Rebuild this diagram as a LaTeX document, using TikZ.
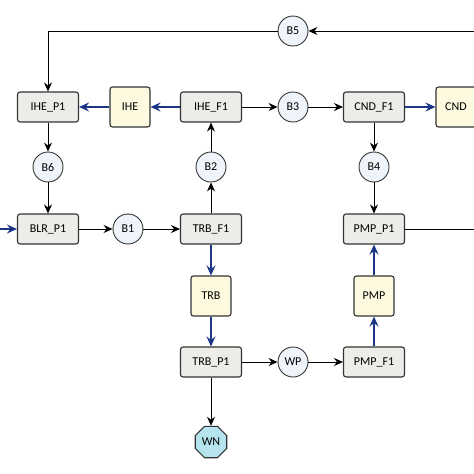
\documentclass[tikz,border=0pt]{standalone}
\usepackage{fontspec}
\setmainfont{Carlito}
\usetikzlibrary{arrows.meta,shapes.geometric}
\definecolor{gbox}{HTML}{ECEDE9}
\definecolor{ybox}{HTML}{FDFAE0}
\definecolor{cfill}{HTML}{EEF4FA}
\definecolor{wnfill}{HTML}{B5E4EE}
\definecolor{navy}{HTML}{1C3585}
\definecolor{edge}{HTML}{333333}
\begin{document}
\begin{tikzpicture}[x=1pt,y=-1pt,
  font=\fontsize{12}{13}\selectfont,
  pbox/.style={draw=edge,line width=1.1pt,rounded corners=2.5pt,fill=gbox,minimum width=61pt,minimum height=30pt,inner sep=0pt},
  ebox/.style={draw=edge,line width=1.1pt,rounded corners=2.5pt,fill=ybox,minimum width=40pt,minimum height=40pt,inner sep=0pt},
  bus/.style={draw=edge,line width=0.9pt,circle,fill=cfill,minimum size=30pt,inner sep=0pt},
  octa/.style={draw=edge,line width=1.1pt,regular polygon,regular polygon sides=8,fill=wnfill,minimum size=34pt,inner sep=0pt},
  blk/.style={black,line width=0.9pt,-{Stealth[length=9pt,width=8pt,inset=3pt]}},
  blu/.style={navy,line width=2pt,-{Stealth[length=10pt,width=9pt,inset=3.5pt]}},
  plain/.style={line width=0.9pt}]
\useasboundingbox (0,0) rectangle (474,474);
% row 1
\node[pbox] (iheP) at (48,107) {IHE\_P1};
\node[ebox] (ihe) at (130,107) {IHE};
\node[pbox] (iheF) at (211,107) {IHE\_F1};
\node[bus] (b3) at (293,107) {B3};
\node[pbox] (cndF) at (374,107) {CND\_F1};
\node[ebox] (cnd) at (456,107) {CND};
% top
\node[bus] (b5) at (293,31) {B5};
\coordinate (rt) at (474,31);
\coordinate (lt) at (48,31);
% row 2
\node[bus] (b6) at (48,167) {B6};
\node[bus] (b2) at (211,167) {B2};
\node[bus] (b4) at (374,167) {B4};
% row 3
\node[pbox] (blrP) at (48,229) {BLR\_P1};
\node[bus] (b1) at (128,229) {B1};
\node[pbox] (trbF) at (211,229) {TRB\_F1};
\node[pbox] (pmpP) at (374,229) {PMP\_P1};
\coordinate (lin) at (0,229);
\coordinate (rout) at (474,229);
% row 4
\node[ebox] (trb) at (211,296) {TRB};
\node[ebox] (pmp) at (374,296) {PMP};
% row 5
\node[pbox] (trbP) at (211,362) {TRB\_P1};
\node[bus] (wp) at (293,362) {WP};
\node[pbox] (pmpF) at (374,362) {PMP\_F1};
\node[octa] (wn) at (211,442) {WN};
% blue (energy) arrows
\draw[blu] (iheF) -- (ihe);
\draw[blu] (ihe) -- (iheP);
\draw[blu] (cndF) -- (cnd);
\draw[blu] (lin) -- (blrP);
\draw[blu] (trbF) -- (trb);
\draw[blu] (trb) -- (trbP);
\draw[blu] (pmpF) -- (pmp);
\draw[blu] (pmp) -- (pmpP);
% black arrows
\draw[blk] (iheF) -- (b3);
\draw[blk] (b3) -- (cndF);
\draw[blk] (cndF) -- (b4);
\draw[blk] (b4) -- (pmpP);
\draw[plain] (pmpP) -- (rout);
\draw[blk] (rt) -- (b5);
\draw[blk] (b5) -- (lt) -- (iheP);
\draw[blk] (iheP) -- (b6);
\draw[blk] (b6) -- (blrP);
\draw[blk] (blrP) -- (b1);
\draw[blk] (b1) -- (trbF);
\draw[blk] (trbF) -- (b2);
\draw[blk] (b2) -- (iheF);
\draw[blk] (trbP) -- (wp);
\draw[blk] (wp) -- (pmpF);
\draw[blk] (trbP) -- (wn);
\end{tikzpicture}
\end{document}
